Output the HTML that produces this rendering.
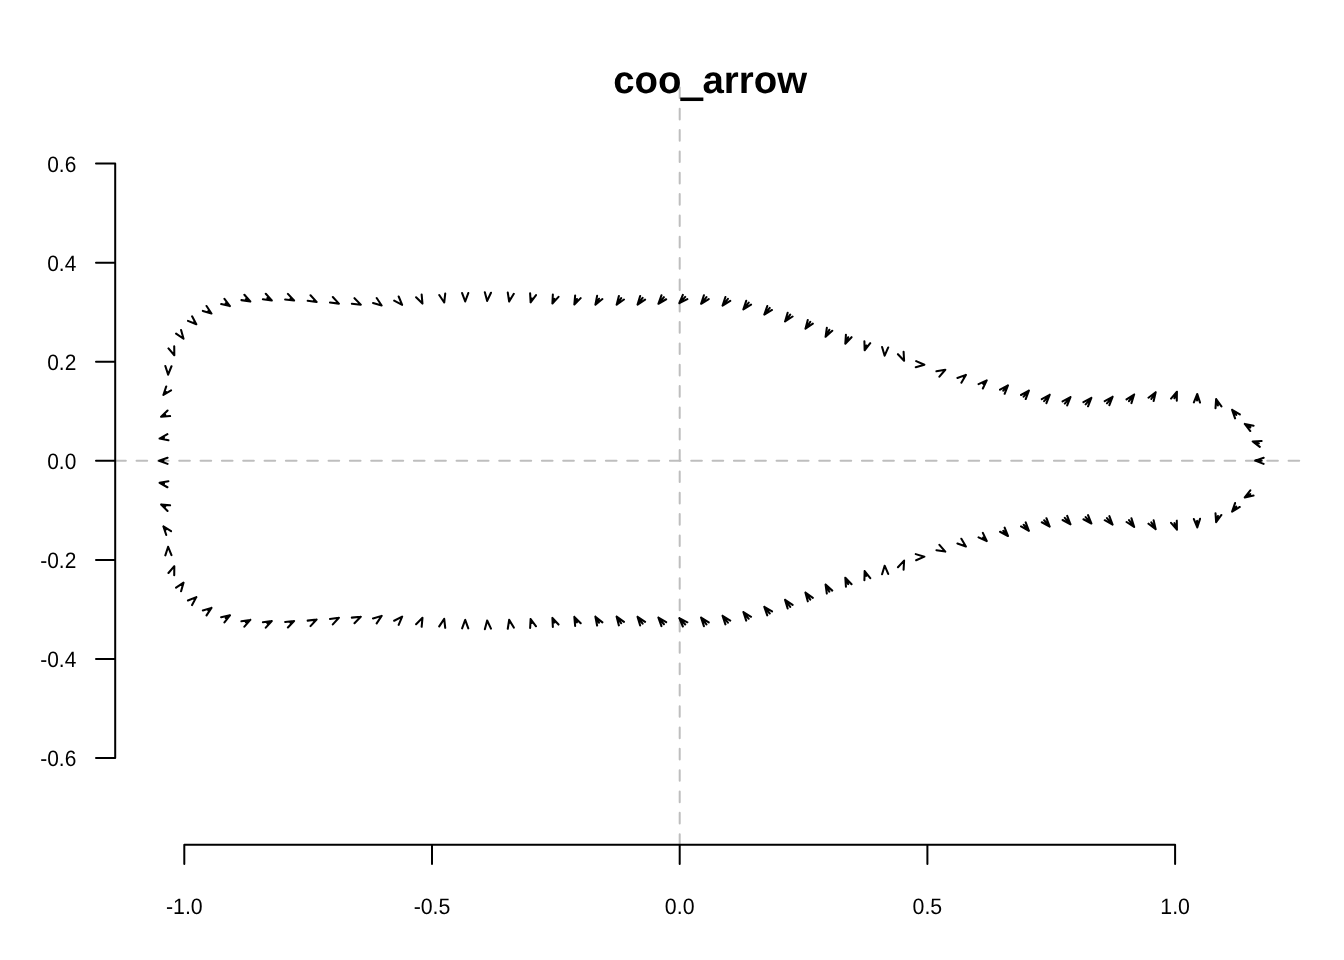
<!DOCTYPE html>
<html><head><meta charset="utf-8"><title>coo_arrow</title>
<style>html,body{margin:0;padding:0;background:#fff}svg{display:block}text{font-family:"Liberation Sans",sans-serif;fill:#000;text-rendering:geometricPrecision}</style></head><body>
<svg width="1344" height="960" viewBox="0 0 1344 960">
<rect width="1344" height="960" fill="#fff"/>
<g stroke="#BEBEBE" stroke-width="2" stroke-linecap="round" fill="none" stroke-dasharray="10.667 10.667">
<path d="M115.2 460.8H1305.6"/>
<path d="M679.7 844.8V76.8"/>
</g>
<text x="710.1" y="93.4" text-anchor="middle" font-size="38.4" font-weight="bold">coo<tspan font-family="DejaVu Sans Mono" dx="-1.1" dy="-1.7">_</tspan><tspan dx="-1.0" dy="1.7">arrow</tspan></text>
<path d="M184.30 864V844.8H1175.10V864M432.00 844.8V864M679.70 844.8V864M927.40 844.8V864M96 163.56H115.2V758.04H96M115.2 262.64H96M115.2 361.72H96M115.2 460.80H96M115.2 559.88H96M115.2 658.96H96" stroke="#000" stroke-width="2" stroke-linecap="round" stroke-linejoin="round" fill="none"/>
<text transform="translate(184.30 914.4) scale(1 1.045)" text-anchor="middle" font-size="21.33">-1.0</text>
<text transform="translate(432.00 914.4) scale(1 1.045)" text-anchor="middle" font-size="21.33">-0.5</text>
<text transform="translate(679.70 914.4) scale(1 1.045)" text-anchor="middle" font-size="21.33">0.0</text>
<text transform="translate(927.40 914.4) scale(1 1.045)" text-anchor="middle" font-size="21.33">0.5</text>
<text transform="translate(1175.10 914.4) scale(1 1.045)" text-anchor="middle" font-size="21.33">1.0</text>
<text transform="translate(76.3 171.86) scale(0.98 1.045)" text-anchor="end" font-size="21.33">0.6</text>
<text transform="translate(76.3 270.94) scale(0.98 1.045)" text-anchor="end" font-size="21.33">0.4</text>
<text transform="translate(76.3 370.02) scale(0.98 1.045)" text-anchor="end" font-size="21.33">0.2</text>
<text transform="translate(76.3 469.10) scale(0.98 1.045)" text-anchor="end" font-size="21.33">0.0</text>
<text transform="translate(76.3 568.18) scale(0.98 1.045)" text-anchor="end" font-size="21.33">-0.2</text>
<text transform="translate(76.3 667.26) scale(0.98 1.045)" text-anchor="end" font-size="21.33">-0.4</text>
<text transform="translate(76.3 766.34) scale(0.98 1.045)" text-anchor="end" font-size="21.33">-0.6</text>
<path d="M167.56 457.72L159.10 460.80L167.56 463.88M163.60 460.80L159.10 460.80M167.42 434.14L159.59 438.57L168.44 440.21M164.03 437.83L159.59 438.57M167.56 410.47L161.13 416.77L170.10 416.08M165.23 414.91L161.13 416.77M166.25 386.44L163.40 394.97L171.07 390.27M165.89 391.84L163.40 394.97M165.33 366.05L168.13 374.60L171.48 366.25M168.16 373.60L168.13 374.60M168.46 348.42L174.32 355.25L174.22 346.25M176.09 333.69L183.53 338.75L181.08 330.09M187.96 320.89L196.31 324.26L192.08 316.32M194.08 322.26L196.31 324.26M202.85 310.90L211.46 313.52L206.55 305.98M208.26 311.12L211.46 313.52M221.14 304.11L229.93 306.07L224.46 298.92M225.71 303.38L229.93 306.07M241.41 300.12L250.30 301.51L244.38 294.73M245.92 299.10L250.30 301.51M262.88 299.17L271.79 300.42L265.77 293.74M267.38 298.08L271.79 300.42M285.14 299.41L294.08 300.44L287.90 293.90M290.51 298.65L294.08 300.44M307.66 300.77L316.59 301.93L310.50 295.31M313.93 300.55L316.59 301.93M329.97 302.42L338.89 303.63L332.83 296.97M337.12 302.70L338.89 303.63M351.82 303.76L360.78 304.65L354.49 298.21M359.88 304.22L360.78 304.65M373.02 302.98L381.66 305.53L376.68 298.03M394.16 300.68L402.16 304.81L398.68 296.51M416.09 297.22L422.46 303.58L421.66 294.61M439.23 295.03L444.21 302.52L445.22 293.58M462.12 293.04L465.20 301.50L468.28 293.04M484.84 292.21L487.17 300.90L490.97 292.75M487.26 299.91L487.17 300.90M507.78 292.62L509.16 301.52L513.82 293.82M509.74 298.57L509.16 301.52M530.13 293.35L530.63 302.33L536.02 295.13M531.79 298.50L530.63 302.33M552.85 294.47L552.41 303.46L558.52 296.86M554.35 298.85L552.41 303.46M575.14 295.51L574.34 304.48L580.71 298.12M576.88 299.04L574.34 304.48M597.11 295.88L595.41 304.71L602.40 299.04M599.01 298.71L595.41 304.71M618.89 296.02L616.65 304.74L623.97 299.50M621.17 298.14L616.65 304.74M640.15 295.93L637.58 304.56L645.09 299.60M642.59 297.81L637.58 304.56M661.44 295.31L658.41 303.78L666.18 299.24M663.90 297.17L658.41 303.78M682.85 294.92L679.34 303.21L687.36 299.11M685.20 296.91L679.34 303.21M703.92 295.23L701.10 303.77L708.75 299.04M706.43 297.02L701.10 303.77M725.41 297.02L722.59 305.57L730.24 300.83M727.91 298.81L722.59 305.57M746.21 300.82L743.39 309.37L751.04 304.63M748.71 302.61L743.39 309.37M767.27 306.08L764.31 314.58L772.04 309.97M769.74 307.92L764.31 314.58M787.65 312.83L785.08 321.46L792.59 316.50M790.20 314.55L785.08 321.46M807.77 320.05L805.46 328.74L812.82 323.57M810.26 321.85L805.46 328.74M826.83 327.88L825.58 336.79L832.26 330.77M829.33 329.73L825.58 336.79M845.94 334.69L845.32 343.67L851.56 337.18M848.16 337.27L845.32 343.67M864.40 341.24L864.65 350.24L870.24 343.19M866.23 345.50L864.65 350.24M882.08 347.08L884.65 355.70L888.22 347.44M897.94 354.19L904.09 360.76L903.60 351.78M915.76 367.27L924.40 364.75L916.16 361.13M939.42 376.60L945.30 369.79L936.42 371.23M961.36 382.69L965.89 374.91L957.42 377.96M963.58 376.83L965.89 374.91M982.85 388.48L986.73 380.36L978.54 384.09M983.16 383.87L986.73 380.36M1004.64 393.76L1007.97 385.40L1000.04 389.66M1003.31 390.62L1007.97 385.40M1025.70 399.03L1028.88 390.61L1021.03 395.01M1023.66 396.67L1028.88 390.61M1046.43 403.20L1049.67 394.80L1041.79 399.15M1044.15 401.13L1049.67 394.80M1067.20 405.49L1070.47 397.10L1062.58 401.42M1064.80 403.56L1070.47 397.10M1088.04 406.26L1091.37 397.90L1083.44 402.16M1085.65 404.32L1091.37 397.90M1109.38 405.22L1112.58 396.81L1104.72 401.20M1106.96 403.32L1112.58 396.81M1131.44 403.13L1134.12 394.54L1126.54 399.40M1129.02 401.22L1134.12 394.54M1153.66 401.04L1155.67 392.27L1148.49 397.70M1151.32 398.99L1155.67 392.27M1176.79 400.75L1176.92 391.75L1171.04 398.56M1174.43 398.29L1176.92 391.75M1200.04 402.56L1197.27 394.00L1193.88 402.34M1197.03 400.50L1197.27 394.00M1221.42 406.44L1216.12 399.17L1215.51 408.15M1217.92 405.41L1216.12 399.17M1239.84 414.43L1232.11 409.82L1235.07 418.32M1236.21 414.86L1232.11 409.82M1253.58 425.80L1244.78 423.92L1250.32 431.02M1250.29 427.37L1244.78 423.92M1261.65 441.03L1252.66 441.44L1259.81 446.91M1258.87 443.38L1252.66 441.44M1263.72 457.73L1255.20 460.62L1263.59 463.89M1261.70 460.77L1255.20 460.62M168.44 481.19L159.59 482.83L167.42 487.26M164.03 483.57L159.59 482.83M170.10 505.32L161.13 504.63L167.56 510.93M165.23 506.49L161.13 504.63M171.07 531.13L163.40 526.43L166.25 534.96M165.89 529.56L163.40 526.43M171.48 555.15L168.13 546.80L165.33 555.35M168.16 547.80L168.13 546.80M174.22 575.15L174.32 566.15L168.46 572.98M181.08 591.31L183.53 582.65L176.09 587.71M192.08 605.08L196.31 597.14L187.96 600.51M194.08 599.14L196.31 597.14M206.55 615.42L211.46 607.88L202.85 610.50M208.26 610.28L211.46 607.88M224.46 622.48L229.93 615.33L221.14 617.29M225.71 618.02L229.93 615.33M244.38 626.67L250.30 619.89L241.41 621.28M245.92 622.30L250.30 619.89M265.77 627.66L271.79 620.98L262.88 622.23M267.38 623.32L271.79 620.98M287.90 627.50L294.08 620.96L285.14 621.99M290.51 622.75L294.08 620.96M310.50 626.09L316.59 619.47L307.66 620.63M313.93 620.85L316.59 619.47M332.83 624.43L338.89 617.77L329.97 618.98M337.12 618.70L338.89 617.77M354.49 623.19L360.78 616.75L351.82 617.64M359.88 617.18L360.78 616.75M376.68 623.37L381.66 615.87L373.02 618.42M398.68 624.89L402.16 616.59L394.16 620.72M421.66 626.79L422.46 617.82L416.09 624.18M445.22 627.82L444.21 618.88L439.23 626.37M468.28 628.36L465.20 619.90L462.12 628.36M490.97 628.65L487.17 620.50L484.84 629.19M487.26 621.49L487.17 620.50M513.82 627.58L509.16 619.88L507.78 628.78M509.74 622.83L509.16 619.88M536.02 626.27L530.63 619.07L530.13 628.05M531.79 622.90L530.63 619.07M558.52 624.54L552.41 617.94L552.85 626.93M554.35 622.55L552.41 617.94M580.71 623.28L574.34 616.92L575.14 625.89M576.88 622.36L574.34 616.92M602.40 622.36L595.41 616.69L597.11 625.52M599.01 622.69L595.41 616.69M623.97 621.90L616.65 616.66L618.89 625.38M621.17 623.26L616.65 616.66M645.09 621.80L637.58 616.84L640.15 625.47M642.59 623.59L637.58 616.84M666.18 622.16L658.41 617.62L661.44 626.09M663.90 624.23L658.41 617.62M687.36 622.29L679.34 618.19L682.85 626.48M685.20 624.49L679.34 618.19M708.75 622.36L701.10 617.63L703.92 626.17M706.43 624.38L701.10 617.63M730.24 620.57L722.59 615.83L725.41 624.38M727.91 622.59L722.59 615.83M751.04 616.77L743.39 612.03L746.21 620.58M748.71 618.79L743.39 612.03M772.04 611.43L764.31 606.82L767.27 615.32M769.74 613.48L764.31 606.82M792.59 604.90L785.08 599.94L787.65 608.57M790.20 606.85L785.08 599.94M812.82 597.83L805.46 592.66L807.77 601.35M810.26 599.55L805.46 592.66M832.26 590.63L825.58 584.61L826.83 593.52M829.33 591.67L825.58 584.61M851.56 584.22L845.32 577.73L845.94 586.71M848.16 584.13L845.32 577.73M870.24 578.21L864.65 571.16L864.40 580.16M866.23 575.90L864.65 571.16M888.22 573.96L884.65 565.70L882.08 574.32M903.60 569.62L904.09 560.64L897.94 567.21M916.16 560.27L924.40 556.65L915.76 554.13M936.42 550.17L945.30 551.61L939.42 544.80M957.42 543.44L965.89 546.49L961.36 538.71M963.58 544.57L965.89 546.49M978.54 537.31L986.73 541.04L982.85 532.92M983.16 537.53L986.73 541.04M1000.04 531.74L1007.97 536.00L1004.64 527.64M1003.31 530.78L1007.97 536.00M1021.03 526.39L1028.88 530.79L1025.70 522.37M1023.66 524.73L1028.88 530.79M1041.79 522.25L1049.67 526.60L1046.43 518.20M1044.15 520.27L1049.67 526.60M1062.58 519.98L1070.47 524.30L1067.20 515.91M1064.80 517.84L1070.47 524.30M1083.44 519.24L1091.37 523.50L1088.04 515.14M1085.65 517.08L1091.37 523.50M1104.72 520.20L1112.58 524.59L1109.38 516.18M1106.96 518.08L1112.58 524.59M1126.54 522.00L1134.12 526.86L1131.44 518.27M1129.02 520.18L1134.12 526.86M1148.49 523.70L1155.67 529.13L1153.66 520.36M1151.32 522.41L1155.67 529.13M1171.04 522.84L1176.92 529.65L1176.79 520.65M1174.43 523.11L1176.92 529.65M1193.88 519.06L1197.27 527.40L1200.04 518.84M1197.03 520.90L1197.27 527.40M1215.51 513.25L1216.12 522.23L1221.42 514.96M1217.92 515.99L1216.12 522.23M1235.07 503.08L1232.11 511.58L1239.84 506.97M1236.21 506.54L1232.11 511.58M1250.32 490.38L1244.78 497.48L1253.58 495.60M1250.29 494.03L1244.78 497.48" stroke="#000" stroke-width="2.05" stroke-linecap="round" stroke-linejoin="round" fill="none"/>
</svg></body></html>
